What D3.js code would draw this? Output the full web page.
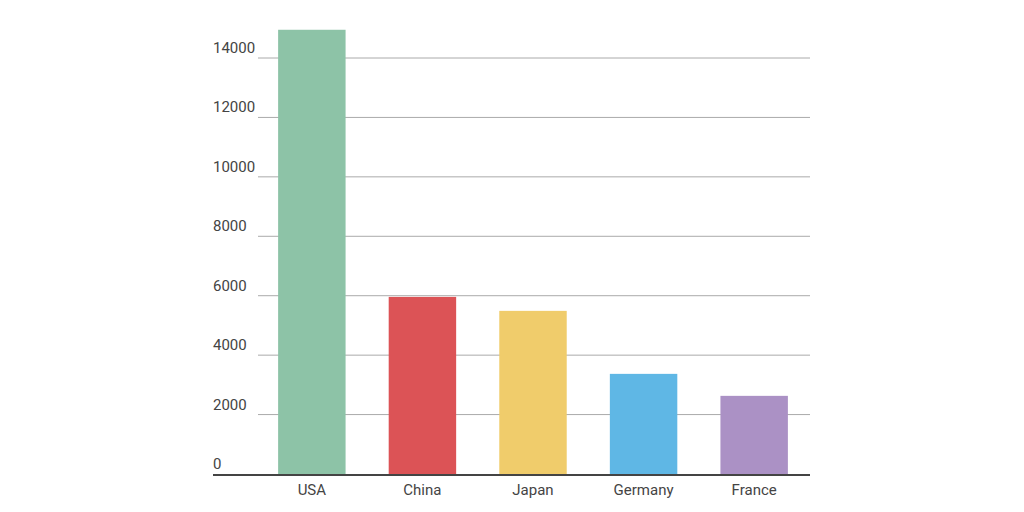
<!DOCTYPE html>
<html><head><meta charset="utf-8">
<script src="https://cdn.jsdelivr.net/npm/d3@7"></script>
<style>body{margin:0;background:#fff}text{font-family:Roboto,sans-serif}</style>
</head><body><svg id="chart" width="1024" height="512"></svg>
<script>
const countries = ["USA", "China", "Japan", "Germany", "France"];
const values = [14950, 5960, 5490, 3370, 2630];
const colors = ["#8dc3a7", "#dc5356", "#f0cc6b", "#5fb7e5", "#ab91c5"];
const yTicks = [0, 2000, 4000, 6000, 8000, 10000, 12000, 14000];

const svg = d3.select("#chart");
const left = 213, right = 810, bottom = 474;

const x = d3.scaleBand().domain(countries).range([256, 810]).paddingInner(0.39).paddingOuter(0.2);
const y = d3.scaleLinear().domain([0, 14000]).range([bottom, 58]);

// gridlines + labels
const g = svg.append("g");
g.selectAll("line.grid").data(yTicks.filter(d => d > 0)).join("line")
    .attr("x1", 258).attr("x2", right)
    .attr("y1", d => y(d)).attr("y2", d => y(d))
    .attr("stroke", "#aaa").attr("stroke-width", 1);
g.selectAll("text.tick").data(yTicks).join("text")
    .attr("x", left).attr("y", d => y(d) - 5)
    .attr("font-size", 15).attr("fill", "#444")
    .text(d => d);

// bars
svg.selectAll("rect").data(values).join("rect")
    .attr("x", (d, i) => x(countries[i]))
    .attr("width", x.bandwidth())
    .attr("y", d => y(d))
    .attr("height", d => bottom - y(d))
    .attr("fill", (d, i) => colors[i]);

// baseline
svg.append("line").attr("x1", left).attr("x2", right)
    .attr("y1", bottom + 1).attr("y2", bottom + 1)
    .attr("stroke", "#444").attr("stroke-width", 2);

// x labels
svg.selectAll("text.cat").data(countries).join("text")
    .attr("class", "cat")
    .attr("x", d => x(d) + x.bandwidth() / 2).attr("y", 495)
    .attr("text-anchor", "middle").attr("font-size", 15).attr("fill", "#444")
    .text(d => d);
</script></body></html>
